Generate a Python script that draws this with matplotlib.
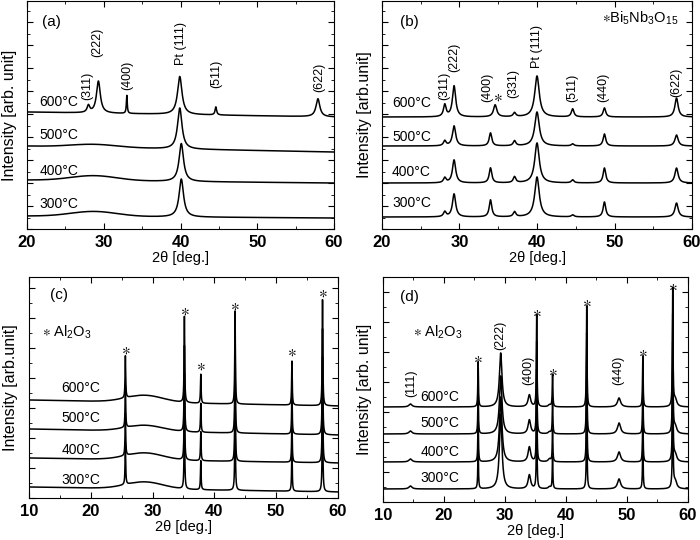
import numpy as np
import matplotlib
matplotlib.use("Agg")
import matplotlib.pyplot as plt
from matplotlib.ticker import MultipleLocator

plt.rcParams["font.family"] = ["Liberation Sans", "DejaVu Sans"]
plt.rcParams["mathtext.default"] = "regular"

temps = ["300°C", "400°C", "500°C", "600°C"]

# ---- panel (a): film on Pt, 2theta 20-60 ----
a_base_start = [13, 49, 83, 117]
a_base_end = [11, 46, 77, 112]
a_hump = [5, 5, 3, 0]
a_peak_pos = [28.0, 29.3, 33.0, 40.0, 44.6, 57.9]
a_peak_w = [0.2, 0.3, 0.07, 0.35, 0.12, 0.3]
a_heights = [
    [0, 0, 0, 38, 0, 0],
    [0, 0, 0, 38, 0, 0],
    [0, 0, 0, 41, 0, 0],
    [7, 32, 18, 38, 8, 18],
]
a_labels = ["(311)", "(222)", "(400)", "Pt (111)", "(511)", "(622)"]
a_label_x = [27.8, 29.2, 33.0, 40.0, 44.7, 58.1]
a_label_y = [129, 172, 139, 164, 141, 137]
a_temp_y = [25, 58, 94, 127]

# ---- panel (b) ----
b_base = [12, 46, 83, 112]
b_peak_pos = [28.1, 29.3, 34.0, 34.6, 37.1, 40.0, 44.6, 48.7, 58.0]
b_peak_w = [0.2, 0.25, 0.2, 0.25, 0.2, 0.35, 0.2, 0.2, 0.25]
b_heights = [
    [5, 23, 17, 0, 5, 40, 2, 15, 14],
    [5, 23, 15, 0, 6, 40, 3, 15, 15],
    [5, 20, 13, 0, 5, 34, 2, 12, 11],
    [12, 31, 0, 12, 4, 41, 8, 9, 19],
]
b_labels = ["(311)", "(222)", "(400)", "(331)", "Pt (111)", "(511)", "(440)", "(622)"]
b_label_x = [28.0, 29.3, 33.6, 36.9, 40.0, 44.6, 48.6, 58.0]
b_label_y = [129, 157, 127, 131, 161, 127, 127, 132]
b_temp_y = [26, 57, 92, 126]

# ---- panel (c): bare Al2O3 substrate region ----
c_base_start = [11, 40, 69, 98]
c_base_end = [6, 35, 63, 92]
c_hump = [7, 7, 6, 7]
c_peak_pos = [25.6, 35.15, 37.8, 43.35, 52.55, 57.5]
c_peak_h = [42, 86, 29, 93, 44, 106]
c_star_y = [148, 187, 132, 192, 146, 205]
c_temp_y = [18, 48, 80, 110]

# ---- panel (d) ----
d_base = [13, 40, 68, 95]
d_al_pos = [25.6, 35.2, 37.8, 43.4, 52.6, 57.5]
d_al_h = [45, 92, 32, 101, 51, 117]
d_star_y = [143, 189, 130, 199, 149, 215]
d_film_pos = [14.5, 29.3, 34.0, 37.3, 48.7, 57.9]
d_film_w = [0.3, 0.25, 0.25, 0.25, 0.3, 0.3]
d_film_h = [
    [3, 75, 14, 2, 10, 8],
    [3, 65, 15, 3, 10, 8],
    [3, 58, 14, 2, 11, 8],
    [3, 54, 12, 2, 9, 8],
]
d_labels = ["(111)", "(222)", "(400)", "(440)"]
d_label_x = [14.6, 29.3, 33.8, 48.5]
d_label_y = [105, 152, 117, 117]
d_temp_y = [24, 50, 79, 105]


def lorentz(x, x0, h, w):
    return h / (1 + ((x - x0) / w) ** 2)


def trace(x, b0, b1, hump, pos, heights, widths, hump_pos=28.7, hump_w=3.0):
    y = b0 + (b1 - b0) * (x - x[0]) / (x[-1] - x[0])
    y = y + hump * np.exp(-0.5 * ((x - hump_pos) / hump_w) ** 2)
    for p, h, w in zip(pos, heights, widths):
        y = y + lorentz(x, p, h, w)
    return y


def style_axes(ax, xmin, xmax, ymax, ylabel, label_x, ystep):
    ax.set_xlim(xmin, xmax)
    ax.set_ylim(0, ymax)
    ax.xaxis.set_major_locator(MultipleLocator(10))
    ax.xaxis.set_minor_locator(MultipleLocator(5))
    ax.yaxis.set_major_locator(MultipleLocator(ystep))
    ax.yaxis.set_minor_locator(MultipleLocator(ystep / 2))
    ax.tick_params(which="both", direction="in", top=True, right=True,
                   labelleft=False, labelsize=12, pad=4)
    ax.tick_params(which="major", length=4)
    ax.tick_params(which="minor", length=2)
    for lab in ax.get_xticklabels():
        lab.set_fontweight("bold")
    ax.set_xlabel("2θ [deg.]", fontsize=10.5, labelpad=1)
    ax.set_ylabel(ylabel, fontsize=11.5)
    ax.yaxis.set_label_coords(label_x, 0.5)


def star(ax, x, y):
    ax.text(x, y, r"$\ast$", fontsize=12, ha="center", va="center",
            fontweight="bold")


fig = plt.figure(figsize=(7, 5.4), dpi=100)
ax_a = fig.add_axes([0.0386, 0.5759, 0.4386, 0.4222])
ax_b = fig.add_axes([0.5457, 0.5759, 0.4429, 0.4222])
ax_c = fig.add_axes([0.0414, 0.0778, 0.4414, 0.4093])
ax_d = fig.add_axes([0.5471, 0.0704, 0.4357, 0.4167])

lw = 1.1
rot_kw = dict(rotation=90, ha="center", va="bottom", fontsize=9)

# (a)
x = np.linspace(20, 60, 4001)
for i in range(4):
    pos = list(a_peak_pos)
    if i < 2:
        pos[3] = 40.1
    else:
        pos[3] = 39.9
    y = trace(x, a_base_start[i], a_base_end[i], a_hump[i], pos, a_heights[i], a_peak_w)
    ax_a.plot(x, y, color="black", lw=lw)
    ax_a.text(21.6, a_temp_y[i], temps[i], fontsize=10, va="center")
for lab, lx, ly in zip(a_labels, a_label_x, a_label_y):
    ax_a.text(lx, ly, lab, **rot_kw)
ax_a.text(22.0, 207, "(a)", fontsize=11, va="center")
style_axes(ax_a, 20, 60, 228, "Intensity [arb. unit]", -0.033, 23)

# (b)
for i in range(4):
    y = trace(x, b_base[i], b_base[i], 0, b_peak_pos, b_heights[i], b_peak_w)
    ax_b.plot(x, y, color="black", lw=lw)
    ax_b.text(21.3, b_temp_y[i], temps[i], fontsize=10, va="center")
for lab, lx, ly in zip(b_labels, b_label_x, b_label_y):
    ax_b.text(lx, ly, lab, **rot_kw)
star(ax_b, 35.0, 132)
ax_b.text(53.3, 211, r"$\ast$Bi$_5$Nb$_3$O$_{15}$", fontsize=10.5, ha="center", va="center")
ax_b.text(22.3, 207, "(b)", fontsize=11, va="center")
style_axes(ax_b, 20, 60, 228, "Intensity [arb.unit]", -0.032, 23)

# (c)
x2 = np.linspace(10, 60, 10001)
c_w = [0.06] * len(c_peak_pos)
for i in range(4):
    y = trace(x2, c_base_start[i], c_base_end[i], c_hump[i], c_peak_pos,
              c_peak_h, c_w)
    ax_c.plot(x2, y, color="black", lw=lw)
    ax_c.text(15.3, c_temp_y[i], temps[i], fontsize=10, va="center")
for px, sy in zip(c_peak_pos, c_star_y):
    star(ax_c, px, sy)
ax_c.text(12.1, 166, r"$\ast$ Al$_2$O$_3$", fontsize=10.5, va="center")
ax_c.text(13.4, 203, "(c)", fontsize=11, va="center")
style_axes(ax_c, 10, 60, 221, "Intensity [arb.unit]", -0.036, 30)

# (d)
d_w = [0.06] * len(d_al_pos)
for i in range(4):
    y = trace(x2, d_base[i], d_base[i], 0, d_al_pos + d_film_pos,
              d_al_h + d_film_h[i], d_w + d_film_w)
    ax_d.plot(x2, y, color="black", lw=lw)
    ax_d.text(16.1, d_temp_y[i], temps[i], fontsize=10, va="center")
for px, sy in zip(d_al_pos, d_star_y):
    star(ax_d, px, sy)
for lab, lx, ly in zip(d_labels, d_label_x, d_label_y):
    ax_d.text(lx, ly, lab, **rot_kw)
ax_d.text(14.9, 170, r"$\ast$ Al$_2$O$_3$", fontsize=10.5, va="center")
ax_d.text(12.8, 205, "(d)", fontsize=11, va="center")
style_axes(ax_d, 10, 60, 225, "Intensity [arb. unit]", -0.036, 30)

fig.savefig("out.png", dpi=100)
